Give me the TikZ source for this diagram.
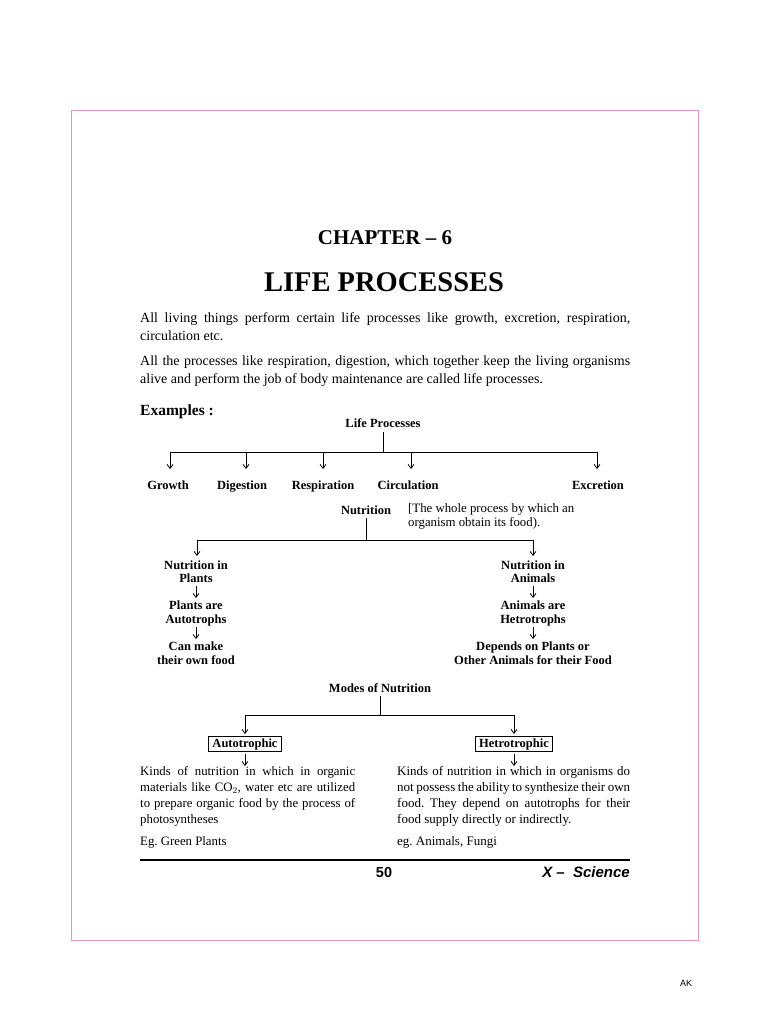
\documentclass[tikz,border=0pt]{standalone}
\usepackage{fontspec}
\setmainfont{Liberation Serif}
\setsansfont{Liberation Sans}
\usetikzlibrary{arrows.meta}
\frenchspacing
\begin{document}
\begin{tikzpicture}[x=1pt,y=-1pt,
  lbl/.style={font=\fontsize{12.5}{14}\selectfont\bfseries,inner sep=0pt,anchor=base},
  body/.style={inner sep=0pt,anchor=north west,align=justify},
  arr/.style={-{Straight Barb[length=4pt,width=6pt]},line width=0.8pt},
  ln/.style={line width=0.8pt}]
\useasboundingbox (0,0) rectangle (768,1024);
\fill[white] (0,0) rectangle (768,1024);
\draw[color={rgb,255:red,232;green,150;blue,190},line width=0.8pt] (71,110) rectangle (698,940);
\node[font=\fontsize{21}{23}\selectfont\bfseries,anchor=base] (ch) at (385,244) {CHAPTER -- 6};
\node[font=\fontsize{28.5}{30}\selectfont\bfseries,anchor=base] (ti) at (384,291) {LIFE PROCESSES};
\node[body,font=\fontsize{14}{18}\selectfont,text width=490] (p1) at (140,312) {\hyphenpenalty=10000\relax All living things perform certain life processes like growth, excretion, respiration, circulation etc.\par\vspace{7pt}All the processes like respiration, digestion, which together keep the living organisms alive and perform the job of body maintenance are called life processes.};
\node[font=\fontsize{15.5}{17}\selectfont\bfseries,anchor=base west,inner sep=0pt] (ex) at (140,415) {Examples :};
% Life processes
\node[lbl] (lp) at (383,427) {Life Processes};
\coordinate (lpj) at (383,452);
\draw[ln] (383,432) -- (lpj);
\draw[ln] (170,452) -- (597,452);
\node[lbl] (g) at (168,489) {Growth};
\node[lbl] (d) at (242,489) {Digestion};
\node[lbl] (r) at (323,489) {Respiration};
\node[lbl] (c) at (408,489) {Circulation};
\node[lbl] (e) at (598,489) {Excretion};
\foreach \x in {170,246,323,411,597} \draw[arr] (\x,452) -- (\x,469);
\node[lbl] (n) at (366,514) {Nutrition};
\node[font=\fontsize{12.8}{14}\selectfont,anchor=north west,align=left,inner sep=0pt] (nb) at (408,503) {[The whole process by which an\\organism obtain its food).};
\draw[ln] (366,518) -- (366,540);
\draw[ln] (197,540) -- (533,540);
\draw[arr] (197,540) -- (197,556);
\draw[arr] (533,540) -- (533,556);
\node[lbl] (np1) at (196,569) {Nutrition in};
\node[lbl] (np2) at (196,582) {Plants};
\node[lbl] (pa1) at (196,609) {Plants are};
\node[lbl] (pa2) at (196,623) {Autotrophs};
\node[lbl] (cm1) at (196,650) {Can make};
\node[lbl] (cm2) at (196,664) {their own food};
\node[lbl] (na1) at (533,569) {Nutrition in};
\node[lbl] (na2) at (533,582) {Animals};
\node[lbl] (aa1) at (533,609) {Animals are};
\node[lbl] (aa2) at (533,623) {Hetrotrophs};
\node[lbl] (dp1) at (533,650) {Depends on Plants or};
\node[lbl] (dp2) at (533,664) {Other Animals for their Food};
\foreach \x in {196,533}{\draw[arr] (\x,586) -- (\x,598); \draw[arr] (\x,627) -- (\x,639);}
% Modes
\node[lbl] (mn) at (380,692) {Modes of Nutrition};
\draw[ln] (380,696) -- (380,715);
\draw[ln] (245,715) -- (514,715);
\draw[arr] (245,715) -- (245,734);
\draw[arr] (514,715) -- (514,734);
\node[draw,line width=0.9pt,font=\fontsize{12.5}{14}\selectfont\bfseries,inner xsep=4pt,inner ysep=2pt] (au) at (245,744) {Autotrophic};
\node[draw,line width=0.9pt,font=\fontsize{12.5}{14}\selectfont\bfseries,inner xsep=4pt,inner ysep=2pt] (he) at (514,744) {Hetrotrophic};
\draw[arr] (245,754) -- (245,766);
\draw[arr] (514,754) -- (514,766);
\node[body,font=\fontsize{12.8}{16}\selectfont,text width=215] (lt) at (140,766) {\hyphenpenalty=10000\relax Kinds of nutrition in which in organic materials like CO$_2$, water etc are utilized to prepare organic food by the process of photosyntheses\par\vspace{6pt}Eg. Green Plants};
\node[body,font=\fontsize{13}{16}\selectfont,text width=233] (rt) at (397,766) {\hyphenpenalty=10000\relax Kinds of nutrition in which in organisms do not possess the ability to synthesize their own food. They depend on autotrophs for their food supply directly or indirectly.\par\vspace{6pt}eg. Animals, Fungi};
\draw[line width=1.4pt] (140,860) -- (630,860);
\node[font=\fontsize{14.5}{16}\selectfont\sffamily\bfseries,anchor=base] (pg) at (384,877) {50};
\node[font=\fontsize{15}{16}\selectfont\sffamily\bfseries\itshape,anchor=base east,inner sep=0pt] (xs) at (630,877) {X --\ \ Science};
\node[font=\fontsize{9}{10}\selectfont\sffamily,anchor=base] (ak) at (686,986) {AK};
\end{tikzpicture}
\end{document}
